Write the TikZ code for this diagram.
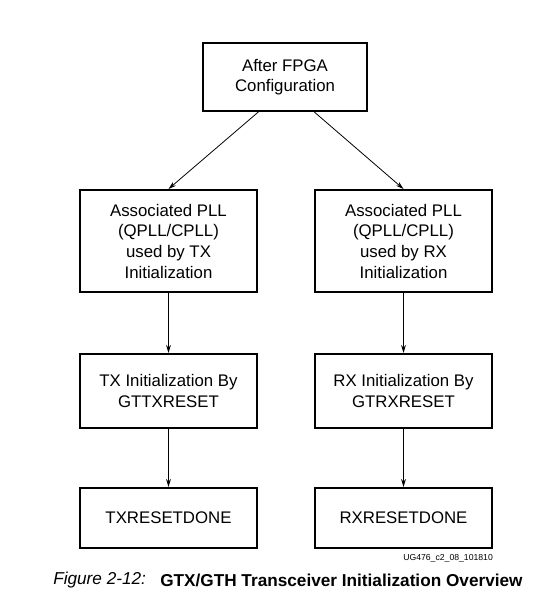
\documentclass[tikz,border=0pt]{standalone}
\usepackage{fontspec}
\setmainfont{Liberation Sans}
\usetikzlibrary{positioning, arrows.meta}
\tikzset{
  initbox/.style={
    draw, line width=1.5pt,
    minimum width=133pt, inner sep=0pt,
    font=\fontsize{12.6}{15.5}\selectfont, align=center
  },
  flow/.style={-{Stealth[length=6pt,width=3.6pt]}, line width=0.6pt},
}

\begin{document}
\begin{tikzpicture}[x=0.75pt, y=-0.75pt, node distance=44pt]
  \useasboundingbox (0,0) rectangle (558,597);

  \node[initbox, minimum width=123pt, minimum height=51pt] (cfg) at (285,77)
    {After FPGA\\Configuration};

  \node[initbox, minimum height=76.5pt] (txpll) at (168.5,241)
    {Associated PLL\\(QPLL/CPLL)\\used by TX\\Initialization};
  \node[initbox, minimum height=76.5pt] (rxpll) at (403.5,241)
    {Associated PLL\\(QPLL/CPLL)\\used by RX\\Initialization};

  \node[initbox, minimum height=55.5pt, below=45pt of txpll] (txinit)
    {TX Initialization By\\GTTXRESET};
  \node[initbox, minimum height=55.5pt, below=45pt of rxpll] (rxinit)
    {RX Initialization By\\GTRXRESET};

  \node[initbox, minimum height=45pt, below=43.5pt of txinit] (txdone) {TXRESETDONE};
  \node[initbox, minimum height=45pt, below=43.5pt of rxinit] (rxdone) {RXRESETDONE};

  \draw[flow] ([xshift=-20pt]cfg.south) -- (txpll.north);
  \draw[flow] ([xshift=22pt]cfg.south) -- (rxpll.north);
  \draw[flow] (txpll) -- (txinit);
  \draw[flow] (rxpll) -- (rxinit);
  \draw[flow] (txinit) -- (txdone);
  \draw[flow] (rxinit) -- (rxdone);

  \node[below left=4pt and 0pt of rxdone.south east, inner sep=0pt,
        font=\fontsize{6.5}{8}\selectfont] (ugid) {UG476\_c2\_08\_101810};

  % caption
  \node[anchor=west, inner sep=0pt, font=\fontsize{12.9}{15}\selectfont\itshape]
    (figno) at (53,580) {Figure 2-12:};
  \node[anchor=west, inner sep=0pt, font=\fontsize{12.9}{15}\selectfont\bfseries]
    (figtitle) at (160,580) {GTX/GTH Transceiver Initialization Overview};
\end{tikzpicture}
\end{document}
